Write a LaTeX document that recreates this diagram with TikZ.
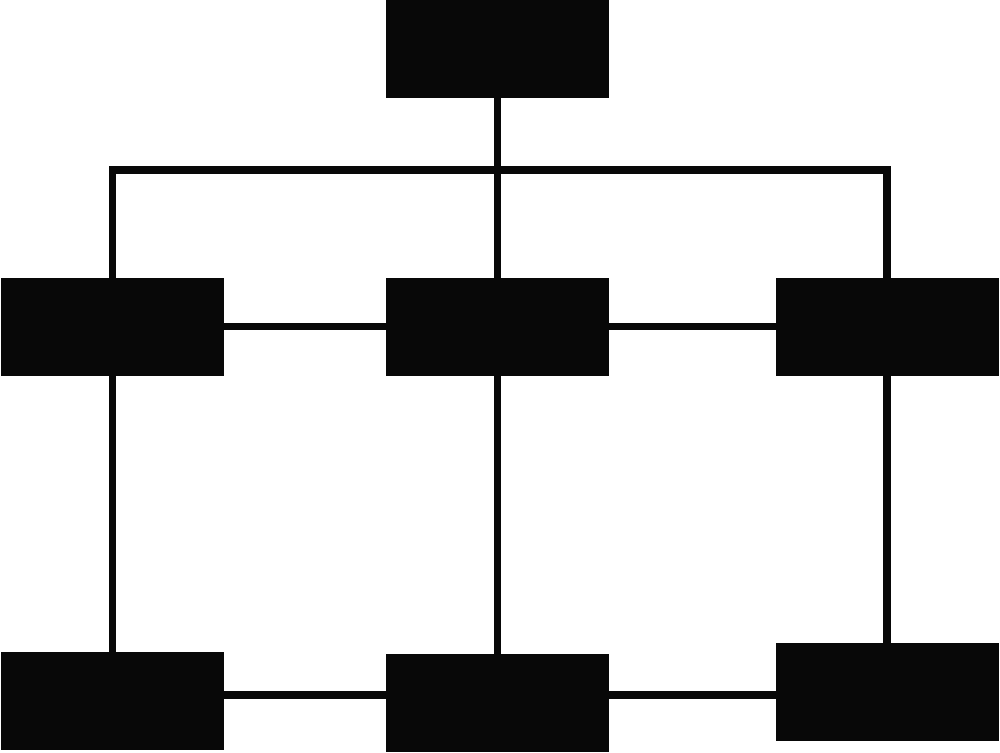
\documentclass[tikz,border=0pt]{standalone}
\begin{document}
\begin{tikzpicture}[x=0.1mm,y=-0.1mm,
    caja/.style={fill=negro,minimum width=22.3mm,minimum height=9.8mm,inner sep=0pt,outer sep=0pt},
    linea/.style={draw=negro,line width=0.75mm}]
        %colores
        \colorlet{negro}{black!97!white}

        % marco
        \useasboundingbox (0,0) rectangle (1000,752);

        % cajas
        \node[caja] (top) at (497.5,49) {};
        \node[caja] (ml) at (112.5,326.5) {};
        \node[caja] (mc) at (497.5,326.5) {};
        \node[caja] (mr) at (887,326.5) {};
        \node[caja] (bl) at (112.5,700.5) {};
        \node[caja] (bc) at (497.5,703) {};
        \node[caja] (br) at (887,692) {};

        % lineas
        \coordinate (bus) at (497.5,170);
        \coordinate (base) at (497.5,695);
        \draw[linea] (top) -- (mc);
        \draw[linea] (ml.north) |- (bus) -| (mr.north);
        \draw[linea] (ml) -- (mc) -- (mr);
        \foreach \a/\b in {ml/bl, mc/bc, mr/br}
            \draw[linea] (\a) -- (\b);
        \draw[linea] (bl.east |- base) -- (bc.west |- base) (bc.east |- base) -- (br.west |- base);
    \end{tikzpicture}
\end{document}
